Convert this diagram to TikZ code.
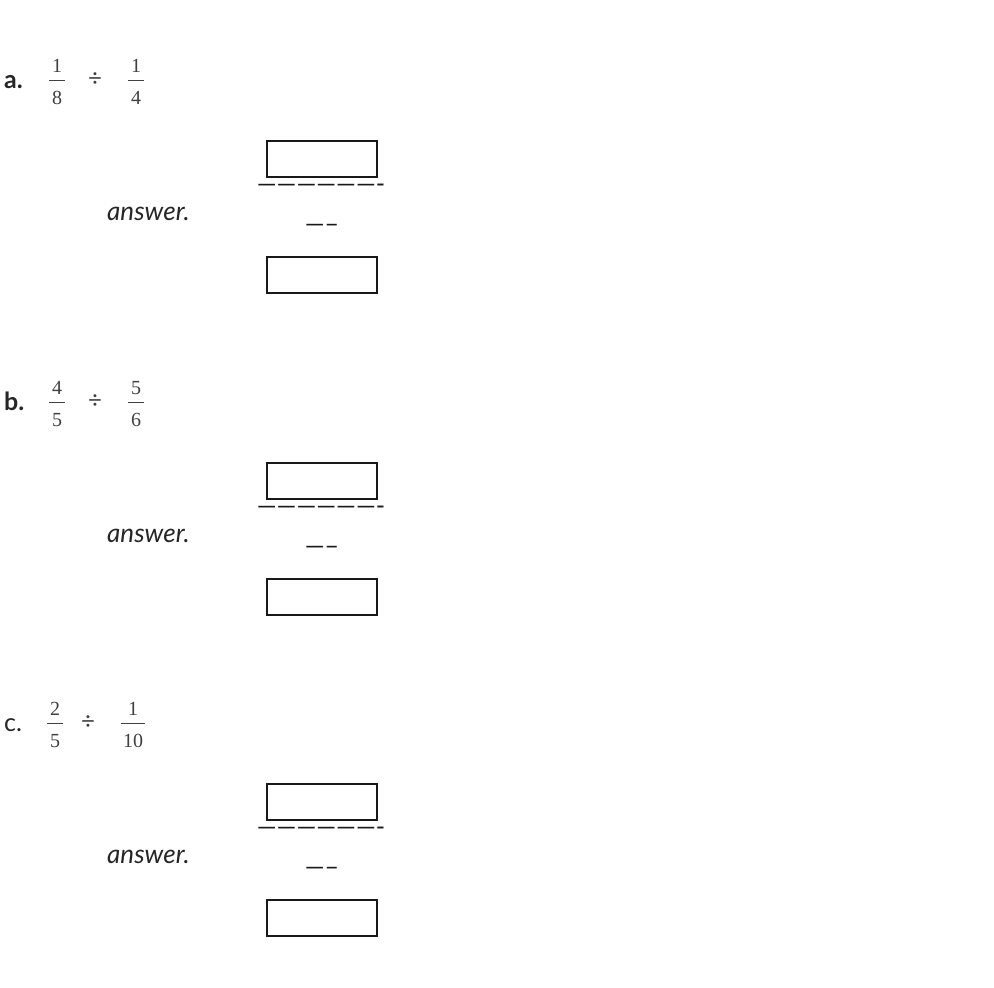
\documentclass[tikz,border=0pt]{standalone}
\usepackage{fontspec}
\setmainfont{Lato}
\newfontfamily\fracfont{Liberation Serif}
\begin{document}
\begin{tikzpicture}[x=1pt,y=-1pt,
  lbl/.style={anchor=base west,font=\fontsize{25}{28}\selectfont,text=black!85,inner sep=0},
  frc/.style={font=\fracfont\fontsize{20}{22}\selectfont,text=black!75,inner sep=0},
  ans/.style={anchor=base west,font=\itshape\fontsize{26}{30}\selectfont,text=black!85,inner sep=0},
  dsh/.style={font=\fontsize{25}{28}\selectfont,text=black!90,inner sep=0},
  abox/.style={draw=black!90,line width=1.8pt,minimum width=110pt,minimum height=36pt,inner sep=0}]
\useasboundingbox (0,0) rectangle (994,988);
\foreach \dy/\L/\ln/\ld/\rn/\rd/\lx/\rx/\dx/\ser in {0/a/1/8/1/4/57/136/95/bfseries, 322/b/4/5/5/6/57/136/95/bfseries, 643/c/2/5/1/10/55/133/88/mdseries}{
  \node[lbl,font=\fontsize{25}{28}\selectfont\csname\ser\endcsname] (lab\L) at (4,\dy+88) {\L.};
  \node[frc] (ln\L) at (\lx,\dy+66) {\ln};
  \node[frc] (ld\L) at (\lx,\dy+98) {\ld};
  \draw[black!75,line width=0.8pt] (\lx-8,\dy+80) -- (\lx+8,\dy+80);
  \node[frc] (rn\L) at (\rx,\dy+66) {\rn};
  \node[frc] (rd\L) at (\rx,\dy+98) {\rd};
  \draw[black!75,line width=0.8pt] (\rx-\ifnum\rd>9 12\else 8\fi,\dy+80) -- (\rx+\ifnum\rd>9 12\else 8\fi,\dy+80);
  \node[font=\fontsize{24}{26}\selectfont,text=black!75,inner sep=0] (dv\L) at (\dx,\dy+80) {÷};
  \node[abox] (t\L) at (322,\dy+159) {};
  \node[dsh] (d1\L) at (321,\dy+188) {-------------------};
  \node[ans] (an\L) at (107,\dy+220) {answer.};
  \node[dsh] (d2\L) at (322,\dy+228) {-----};
  \node[abox] (b\L) at (322,\dy+275) {};
}
\end{tikzpicture}
\end{document}
